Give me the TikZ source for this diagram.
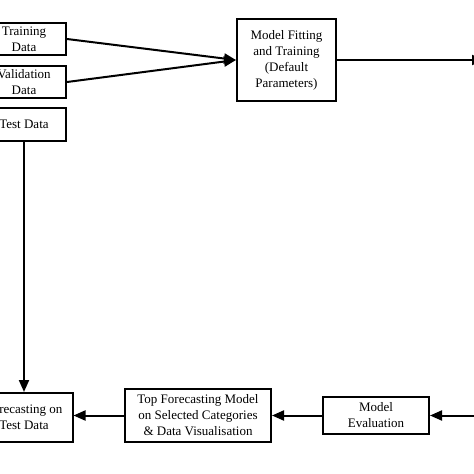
\documentclass[tikz,border=0pt]{standalone}
\usepackage{fontspec}
\setmainfont{Liberation Serif}
\usetikzlibrary{arrows.meta}
\begin{document}
\begin{tikzpicture}[x=1pt,y=-1pt,
  box/.style={draw=black,line width=2pt,align=center,inner sep=0pt,font=\fontsize{13}{16}\selectfont},
  conn/.style={line width=2pt,-{Triangle[length=12pt,width=10pt]}}]
\useasboundingbox (0,0) rectangle (474,474);
\node[box,minimum width=84pt,minimum height=32pt] (train) at (24,39) {Training\\Data};
\node[box,minimum width=84pt,minimum height=32pt] (valid) at (24,82) {Validation\\Data};
\node[box,minimum width=84pt,minimum height=33pt] (test) at (24,124.5) {Test Data};
\node[box,minimum width=99pt,minimum height=82pt] (fit) at (286.5,60) {Model Fitting\\and Training\\(Default\\Parameters)};
\node[box,minimum width=97pt,minimum height=49pt] (fore) at (24,417.5) {Forecasting on\\Test Data};
\node[box,minimum width=146pt,minimum height=53pt] (top) at (198,415.5) {Top Forecasting Model\\on Selected Categories\\\& Data Visualisation};
\node[box,minimum width=106pt,minimum height=37pt] (eval) at (376,415.5) {Model\\Evaluation};
\coordinate (outR) at (484,60);
\coordinate (inR) at (490,415.5);
\draw[conn] (train.east) -- (fit.west);
\draw[conn] (valid.east) -- (fit.west);
\draw[conn] (fit.east) -- (outR);
\draw[conn] (test.south) -- (fore.north);
\draw[conn] (top.west) -- (top.west -| fore.east);
\draw[conn] (eval.west) -- (top.east);
\draw[conn] (inR) -- (eval.east);
\end{tikzpicture}
\end{document}
